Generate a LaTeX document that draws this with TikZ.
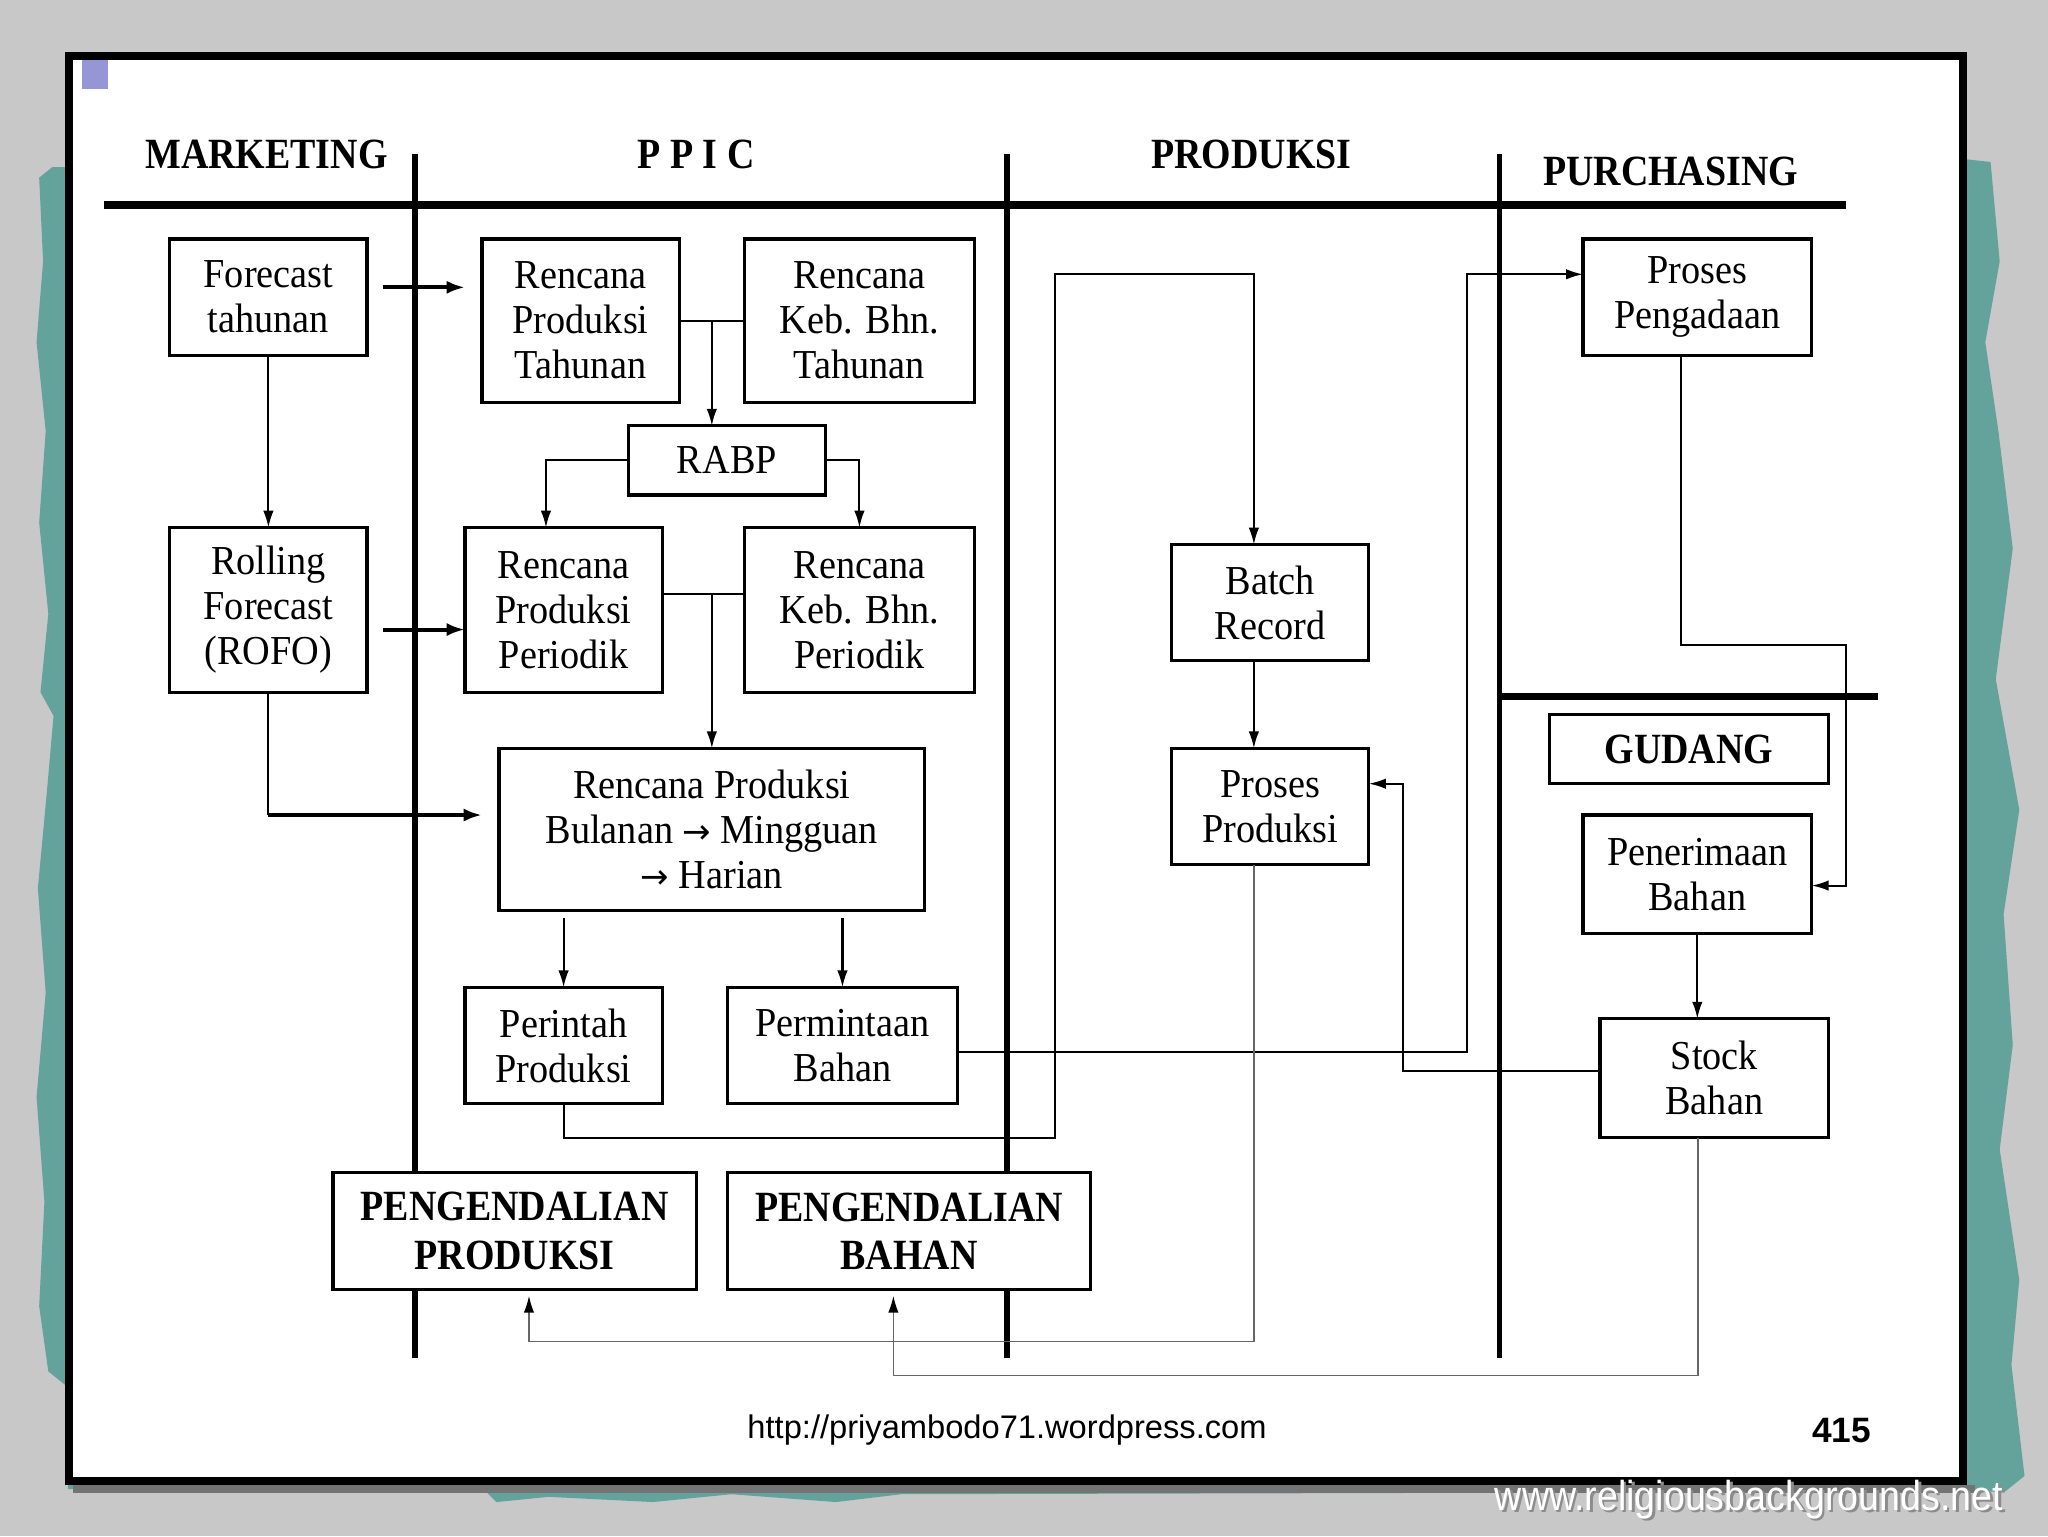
\documentclass[tikz,border=0pt]{standalone}
\usepackage{fontspec}
\setmainfont{Liberation Serif}
\newfontfamily\bxfont[FakeStretch=0.93]{Liberation Serif}
\newfontfamily\hdfont[FakeStretch=0.88]{Liberation Serif}
\newfontfamily\sansf{Liberation Sans}
\newfontfamily\wmfont[FakeStretch=0.9]{Liberation Sans}
\newfontfamily\arrf{DejaVu Sans}
\usetikzlibrary{arrows.meta,calc}
\definecolor{bggray}{RGB}{200,200,200}
\definecolor{tealp}{RGB}{100,163,156}
\definecolor{purp}{RGB}{150,150,215}
\begin{document}
\begin{tikzpicture}[x=1pt,y=-1pt,
 box/.style={draw, line width=2.4pt, fill=white, inner sep=0pt, outer sep=0pt, align=center,
   font=\bxfont\fontsize{31.5}{34.5}\selectfont},
 hbox/.style={box, font=\hdfont\bfseries\fontsize{33}{37}\selectfont},
 hdr/.style={font=\hdfont\bfseries\fontsize{33}{37}\selectfont, inner sep=0pt},
 lane/.style={line width=4.5pt},
 ln/.style={line width=1.6pt},
 arr/.style={ln, -{Latex[length=13pt,width=8pt]}},
 barrow/.style={line width=3pt, -{Latex[length=14pt,width=10pt]}},
 garr/.style={line width=1.3pt, draw=black!60, -{Latex[length=13pt,width=8pt,color=black]}}
]
\useasboundingbox (0,0) rectangle (1568,1176);
% background
\fill[bggray] (0,0) rectangle (1568,1176);
% torn teal paper
\fill[tealp] (40,128) -- (30,136) -- (33,200) -- (28,262) -- (35,330) -- (30,400) -- (37,470)
  -- (31,530) -- (41,548) -- (36,605) -- (29,680) -- (35,760) -- (28,840) -- (34,920)
  -- (30,1000) -- (37,1050) -- (52,1062) -- (52,1140) -- (370,1140) -- (380,1150) -- (420,1146)
  -- (500,1150) -- (560,1144) -- (640,1150) -- (690,1144) -- (1506,1142) -- (1535,1142)
  -- (1550,1130) -- (1540,1045) -- (1546,980) -- (1531,880) -- (1541,800) -- (1534,700)
  -- (1546,620) -- (1528,520) -- (1541,420) -- (1530,330) -- (1520,262) -- (1531,200)
  -- (1524,124) -- (1506,122) -- cycle;
% slide
\fill[black!55] (56,1137) rectangle (1512,1143);
\filldraw[fill=white, draw=black, line width=6pt] (53,43) rectangle (1503,1134);
\fill[purp] (63,46) rectangle (83,68);
% headers
\node[hdr] (mk) at (204,118) {MARKETING};
\node[hdr] (ppic) at (533,118) {P P I C};
\node[hdr] (prod) at (958,118) {PRODUKSI};
\node[hdr] (purch) at (1279,131) {PURCHASING};
% swimlane lines
\draw[line width=5.5pt] (80,157) -- (1413,157);
\draw[lane] (318,118) -- (318,1040);
\draw[lane] (771,118) -- (771,1040);
\draw[lane] (1148,118) -- (1148,1040);
\draw[line width=5.5pt] (1148,533) -- (1438,533);
% boxes
\node[box, minimum width=151pt, minimum height=89pt] (ft) at (205.5,227.5) {Forecast\\tahunan};
\node[box, minimum width=151pt, minimum height=125pt] (rpt) at (444.5,245.5) {Rencana\\Produksi\\Tahunan};
\node[box, minimum width=176pt, minimum height=125pt] (kbt) at (658,245.5) {Rencana\\Keb. Bhn.\\Tahunan};
\node[box, minimum width=151pt, minimum height=53pt] (rabp) at (556.5,352.5) {RABP};
\node[box, minimum width=151pt, minimum height=126pt] (rofo) at (205.5,467) {Rolling\\Forecast\\(ROFO)};
\node[box, minimum width=151pt, minimum height=126pt] (rpp) at (431.5,467) {Rencana\\Produksi\\Periodik};
\node[box, minimum width=176pt, minimum height=126pt] (kbp) at (658,467) {Rencana\\Keb. Bhn.\\Periodik};
\node[box, minimum width=326pt, minimum height=124pt] (rpb) at (545,635)
  {Rencana Produksi\\Bulanan {\arrf\fontsize{26}{30}\selectfont →} Mingguan\\{\arrf\fontsize{26}{30}\selectfont →} Harian};
\node[box, minimum width=151pt, minimum height=89pt] (pp) at (431.5,800.5) {Perintah\\Produksi};
\node[box, minimum width=176pt, minimum height=89pt] (pb) at (645,800.5) {Permintaan\\Bahan};
\node[hbox, minimum width=278pt, minimum height=89pt] (pgp) at (394,942.5) {PENGENDALIAN\\PRODUKSI};
\node[hbox, minimum width=278pt, minimum height=89pt] (pgb) at (696,942.5) {PENGENDALIAN\\BAHAN};
\node[box, minimum width=151pt, minimum height=89pt] (br) at (972.5,461.5) {Batch\\Record};
\node[box, minimum width=151pt, minimum height=89pt] (prp) at (972.5,617.5) {Proses\\Produksi};
\node[box, minimum width=175pt, minimum height=89pt] (ppg) at (1299.5,227.5) {Proses\\Pengadaan};
\node[hbox, minimum width=214pt, minimum height=53pt] (gud) at (1293,573.5) {GUDANG};
\node[box, minimum width=175pt, minimum height=91pt] (pnb) at (1299.5,669.5) {Penerimaan\\Bahan};
\node[box, minimum width=175pt, minimum height=91pt] (sb) at (1312.5,825.5) {Stock\\Bahan};
% connectors
\coordinate (j1) at ($(rpt.east)!0.5!(kbt.west)$);
\draw[ln] (rpt.east) -- (kbt.west);
\draw[arr] (j1) -- (j1 |- rabp.north);
\draw[arr] (rabp.west) -| ($(rpp.north)+(-13.5,0)$);
\draw[arr] (rabp.east) -| (kbp.north);
\draw[barrow] ($(ft.east)+(12,-7.5)$) -- ($(rpt.west)+(-13,-25.5)$);
\draw[arr] (ft.south) -- (rofo.north);
\draw[barrow] ($(rofo.east)+(12,15)$) -- ($(rpp.west)+(0,15)$);
\draw[ln] ($(rpp.east)+(0,-12)$) -- ($(kbp.west)+(0,-12)$);
\draw[arr] ($(rpb.north |- rpp.east)+(0,-12)$) -- (rpb.north);
\coordinate (e8) at ($(rpb.west)+(-13,-11)$);
\draw[ln] (rofo.south) -- (rofo.south |- e8);
\draw[barrow] (rofo.south |- e8) -- (e8);
\draw[arr] ($(pp.north |- rpb.south)+(0,6)$) -- (pp.north);
\draw[arr] ($(pb.north |- rpb.south)+(0,6)$) -- (pb.north);
\draw[arr] (pp.south) -- ++(0,26) -| ++(376.5,-661) -| ($(br.north)+(-12.5,0)$);
\draw[arr] ($(pb.east)+(0,5)$) -| ($(ppg.west)+(-89,-17.5)$) -- ($(ppg.west)+(0,-17.5)$);
\draw[arr] ($(br.south)+(-12.5,0)$) -- ($(prp.north)+(-12.5,0)$);
\draw[arr] ($(sb.west)+(0,-5.5)$) -| ($(prp.east)+(26,-17.5)$) -- ($(prp.east)+(0,-17.5)$);
\draw[arr] ($(ppg.south)+(-12.5,0)$) |- ($(pnb.east)+(26,-175.5)$) |- ($(pnb.east)+(0,8.5)$);
\draw[arr] (pnb.south) -- (pnb.south |- sb.north);
\draw[garr] ($(prp.south)+(-12.5,0)$) |- ($(pgp.south)+(11,40)$) -- ($(pgp.south)+(11,5)$);
\draw[garr] ($(sb.south)+(-12.5,0)$) |- ($(pgb.south)+(-12,66)$) -- ($(pgb.south)+(-12,5)$);
% footer
\node[font=\sansf\fontsize{25}{28}\selectfont, inner sep=0pt] (url) at (771,1095) {http://priyambodo71.wordpress.com};
\node[font=\sansf\bfseries\fontsize{27}{30}\selectfont, inner sep=0pt] (pg) at (1410,1095) {415};
% watermark
\node[font=\wmfont\fontsize{32}{34}\selectfont, text=black!45, inner sep=0pt] at (1341,1150) {www.religiousbackgrounds.net};
\node[font=\wmfont\fontsize{32}{34}\selectfont, text=white, inner sep=0pt] (wm) at (1339,1148) {www.religiousbackgrounds.net};
\end{tikzpicture}
\end{document}
